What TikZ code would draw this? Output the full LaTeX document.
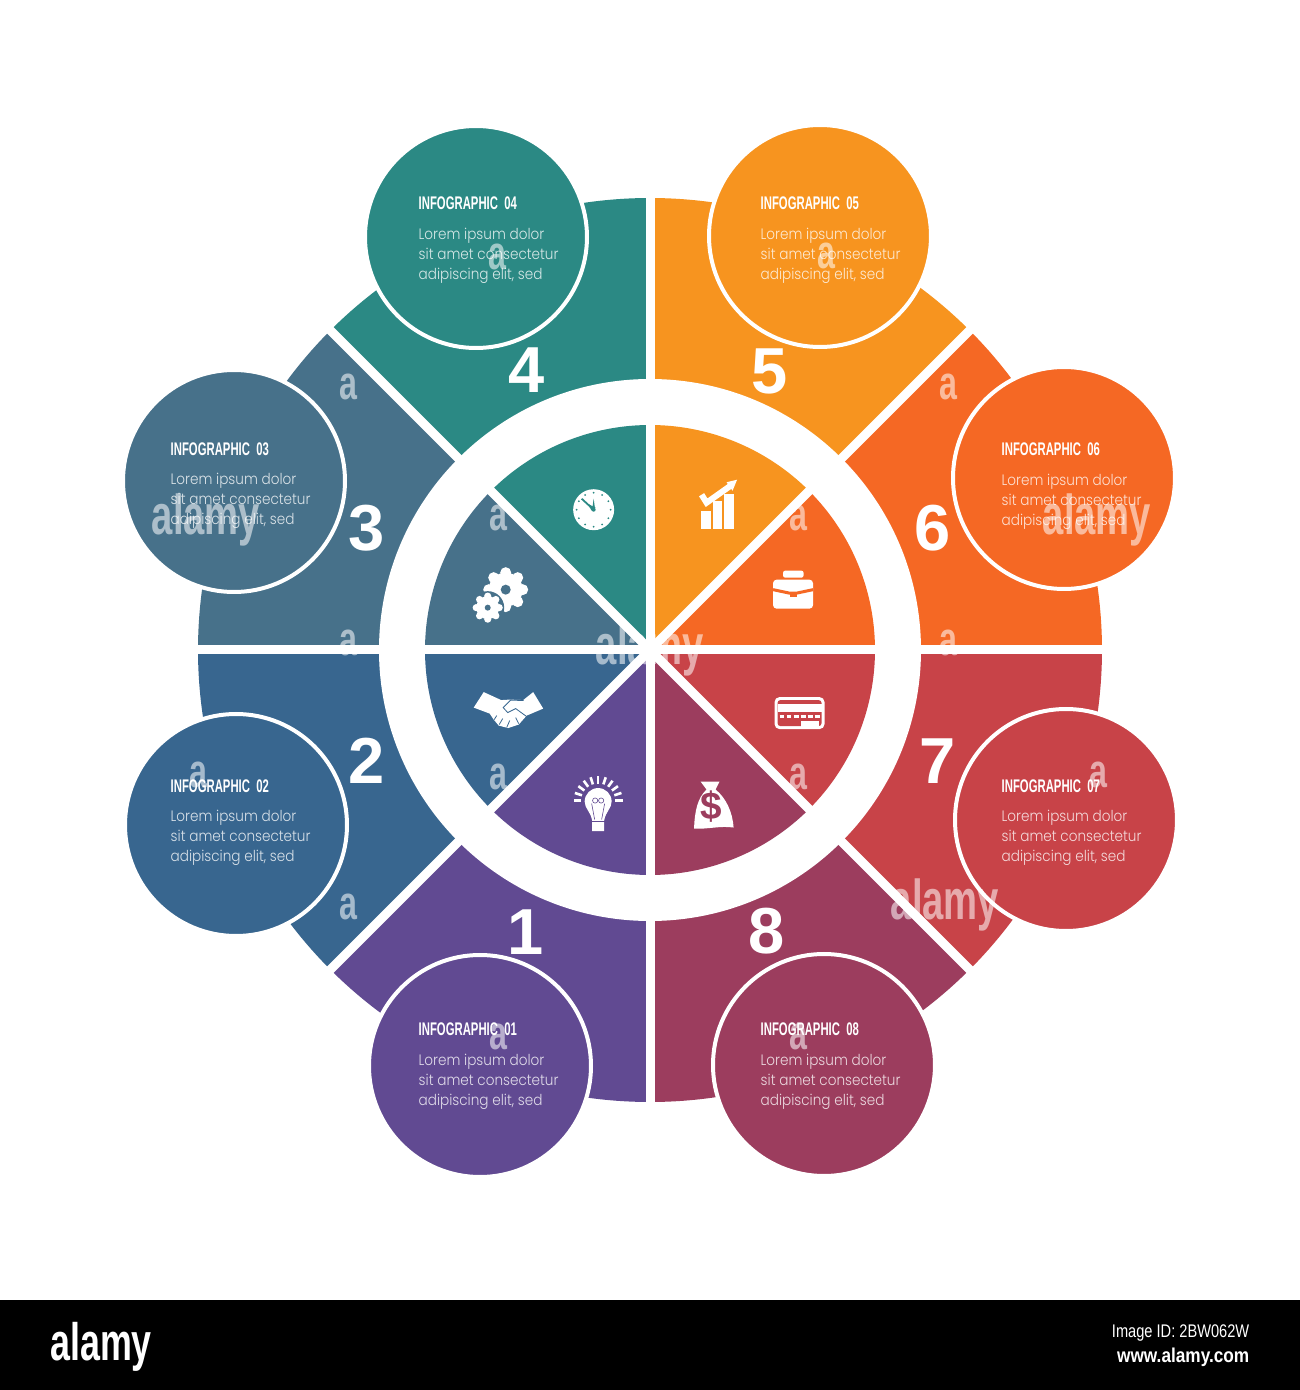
\documentclass[tikz,border=0pt]{standalone}
\usepackage{fontspec}
\setmainfont{Liberation Sans}
\newfontfamily\headfont{Liberation Sans}[FakeStretch=0.62]
\newfontfamily\bodyfont{Poppins Light}[FakeStretch=0.9]
\newfontfamily\markfont{Liberation Sans}[FakeStretch=0.68]
\newfontfamily\footfont{Liberation Sans}[FakeStretch=0.8]
\newfontfamily\urlfont{Liberation Sans}[FakeStretch=0.86]
\definecolor{segA}{HTML}{614A92}
\definecolor{segB}{HTML}{38668F}
\definecolor{segC}{HTML}{47718A}
\definecolor{segD}{HTML}{2B8984}
\definecolor{segE}{HTML}{F7941F}
\definecolor{segF}{HTML}{F56824}
\definecolor{segG}{HTML}{C84348}
\definecolor{segH}{HTML}{9C3D5E}
\tikzstyle{spoke}=[draw=white, line width=0.09cm]
\tikzstyle{bubble}=[circle, draw=white, line width=0.04cm, minimum size=2.22cm, inner sep=0]
\tikzstyle{bubble head}=[anchor=west, inner sep=0, text=white, font=\headfont\bfseries\fontsize{5.2}{6}\selectfont]
\tikzstyle{bubble text}=[anchor=west, inner sep=0, align=left, text=white, text opacity=0.8, font=\bodyfont\fontsize{4.3}{5.65}\selectfont]
\tikzstyle{segment number}=[inner sep=0, text=white, font=\bfseries\fontsize{18.5}{20}\selectfont]
\tikzstyle{watermark}=[inner sep=0, text=white, text opacity=0.55, font=\markfont\bfseries\fontsize{16}{17}\selectfont]
\tikzstyle{water letter}=[inner sep=0, text=white, text opacity=0.55, font=\markfont\bfseries\fontsize{13.5}{14}\selectfont]
\tikzstyle{icon}=[x=0.01cm, y=-0.01cm, yshift=13.9cm]
\newcommand{\loremtext}{Lorem ipsum dolor\\sit amet consectetur\\adipiscing elit, sed}
\begin{document}
\begin{tikzpicture}
  \useasboundingbox (0, 0) rectangle (13, 13.9);
  \fill[white] (0, 0) rectangle (13, 13.9);
  \fill[black] (0, 0) rectangle (13, 0.9);
  \coordinate (hub) at (6.5, 7.4);

  \foreach \idx/\col in {1/segA, 2/segB, 3/segC, 4/segD, 5/segE, 6/segF, 7/segG, 8/segH}
  {
    \pgfmathsetmacro{\ang}{270-45*\idx}
    \fill[\col] (hub) -- ++(\ang:4.52) arc[start angle=\ang, delta angle=45, radius=4.52] -- cycle;
  }
  \fill[white] (hub) circle[radius=2.71];
  \foreach \idx/\col in {1/segA, 2/segB, 3/segC, 4/segD, 5/segE, 6/segF, 7/segG, 8/segH}
  {
    \pgfmathsetmacro{\ang}{270-45*\idx}
    \fill[\col] (hub) -- ++(\ang:2.25) arc[start angle=\ang, delta angle=45, radius=2.25] -- cycle;
  }
  \foreach \ang in {0, 45, ..., 315}
    \draw[spoke] (hub) -- ++(\ang:4.62);

  \foreach \idx/\col/\cx/\cy/\tx/\hy/\by/\nx/\ny in {
    1/segA/4.80/3.24/4.18/3.61/3.08/5.26/4.58,
    2/segB/2.36/5.65/1.70/6.04/5.52/3.67/6.29,
    3/segC/2.34/9.09/1.70/9.41/8.89/3.67/8.62,
    4/segD/4.76/11.53/4.18/11.87/11.34/5.27/10.20,
    5/segE/8.20/11.54/7.60/11.87/11.34/7.70/10.19,
    6/segF/10.64/9.12/10.01/9.41/8.88/9.33/8.62,
    7/segG/10.66/5.70/10.01/6.04/5.52/9.38/6.29,
    8/segH/8.24/3.25/7.60/3.61/3.08/7.67/4.59}
  {
    \node[bubble, fill=\col] (bubble_\idx) at (\cx, \cy) {};
    \node[bubble head] (head_\idx) at (\tx, \hy) {INFOGRAPHIC\ \ 0\idx};
    \node[bubble text] (text_\idx) at (\tx, \by) {\loremtext};
    \node[segment number] (number_\idx) at (\nx, \ny) {\idx};
  }

  \begin{scope}[icon]
    \fill[white] (594, 510) circle[radius=20.5];
    \foreach \ang in {0, 30, ..., 330}
      \fill[segD] (594, 510) ++(\ang:17) circle[radius=1];
    \draw[segD, line width=0.5pt] (594, 510) -- (582, 499);
    \fill[segD] (592, 511) -- (588, 504) -- (596, 508) -- cycle;
    \fill[segD] (592.5, 510) -- (594, 499) -- (595.5, 510) -- cycle;
    \fill[segD] (594, 510) circle[radius=2];

    \foreach \ang in {0, 45, ..., 315}
      \fill[white] (506, 590) ++(\ang:17) circle[radius=5.5];
    \fill[white] (506, 590) circle[radius=17];
    \fill[segC] (506, 590) circle[radius=5];
    \fill[segC] (488, 608) circle[radius=16.5];
    \foreach \ang in {0, 45, ..., 315}
      \fill[white] (488, 608) ++(\ang:11.5) circle[radius=3.6];
    \fill[white] (488, 608) circle[radius=11.5];
    \fill[segC] (488, 608) circle[radius=3];

    \fill[white] (701, 511) rectangle (711, 529);
    \fill[white] (713.5, 501) rectangle (722.5, 529);
    \fill[white] (724.5, 494) rectangle (734.5, 529);
    \draw[white, line width=0.06cm] (702, 495) -- (707, 503) -- (731, 486);
    \fill[white] (737.5, 480) -- (727, 482.5) -- (733, 491) -- cycle;

    \fill[white, rounded corners=0.6pt] (783.5, 571) rectangle (804, 578);
    \fill[white, rounded corners=1pt] (773.5, 580) rectangle (813.5, 609);
    \draw[segF, line width=0.03cm] (773.5, 590) -- (790, 593.5) -- (797, 593.5) -- (813.5, 590);
    \fill[segF] (790, 593) rectangle (797, 597);

    \fill[white, rounded corners=1.4pt] (775, 697.5) rectangle (825, 729.5);
    \fill[segG, rounded corners=0.8pt] (778, 700.5) rectangle (822, 726.5);
    \fill[white] (778, 704.5) rectangle (822, 712.5);
    \draw[white, line width=0.03cm, dash pattern=on 1.4pt off 0.6pt] (780, 717) -- (820, 717);
    \fill[white] (801.5, 721) rectangle (819, 729);

    \fill[white] (701, 782) -- (720, 782) -- (716, 790)
      .. controls (726, 798) and (733, 812) .. (734, 828)
      .. controls (720, 826) and (708, 830) .. (694.5, 829)
      .. controls (695, 812) and (698, 798) .. (707, 790) -- cycle;
    \node[inner sep=0, text=segH, font=\bfseries\fontsize{11}{12}\selectfont] (dollar) at (712, 807) {\$};

    \foreach \ang in {0, 18, ..., 180}
      \draw[white, line width=0.026cm] (598.5, 801) ++(\ang:-17) -- ++(\ang:-7.5);
    \fill[white] (592.5, 821) .. controls (591, 812) and (585, 809) .. (585, 802)
      arc[start angle=180, end angle=360, radius=13.5]
      .. controls (612, 809) and (606, 812) .. (604.5, 821)
      -- (604.5, 831.5) -- (592.5, 831.5) -- cycle;
    \draw[segA, line width=0.006cm] (595, 820) -- (592, 804);
    \draw[segA, line width=0.006cm] (602, 820) -- (605, 804);
    \draw[segA, line width=0.006cm] (595.5, 801) circle[radius=2.6];
    \draw[segA, line width=0.006cm] (601.5, 801) circle[radius=2.6];
    \draw[segA, line width=0.006cm] (592, 822) -- (605, 822);

    \fill[white] (474, 708) -- (484, 692.5) -- (501.5, 700.5) -- (510, 700)
      -- (523.5, 700.5) -- (533.5, 692.5) -- (543.5, 709) -- (527, 716)
      -- (519, 725) -- (508.5, 728.5) -- (499, 726) -- (494, 720) -- (490, 714) -- cycle;
    \draw[segB, line width=0.008cm] (524, 701) -- (511, 700.5) -- (503.5, 708) -- (508, 713) -- (516, 709) -- (527, 717);
    \draw[segB, line width=0.008cm] (497, 716) -- (494.5, 720);
    \draw[segB, line width=0.008cm] (503, 719) -- (499.5, 725);
    \draw[segB, line width=0.008cm] (510, 721) -- (507, 728);
    \draw[segB, line width=0.008cm] (516, 718) -- (519, 724);
  \end{scope}

  \foreach \wx/\wy [count=\wn] in {4.97/11.33, 8.26/11.34, 3.48/10.03, 9.48/10.03, 7.98/8.72, 4.98/8.72,
      3.48/7.47, 9.48/7.47, 4.98/6.13, 7.98/6.13, 1.98/6.15, 10.98/6.15, 3.48/4.83, 7.98/3.53, 4.98/3.53}
    \node[water letter] (mark_\wn) at (\wx, \wy) {a};
  \foreach \wx/\wy [count=\wn] in {2.06/8.70, 10.97/8.70, 9.45/4.85, 6.50/7.40}
    \node[watermark] (stamp_\wn) at (\wx, \wy) {alamy};

  \node[inner sep=0, text=white, font=\markfont\bfseries\fontsize{15}{16}\selectfont] (foot_logo) at (1.01, 0.43) {alamy};
  \node[inner sep=0, anchor=east, text=white, font=\footfont\fontsize{5.2}{6}\selectfont] (foot_id) at (12.5, 0.57) {Image ID: 2BW062W};
  \node[inner sep=0, anchor=east, text=white, font=\urlfont\bfseries\fontsize{5.7}{6}\selectfont] (foot_url) at (12.5, 0.33) {www.alamy.com};
\end{tikzpicture}
\end{document}
